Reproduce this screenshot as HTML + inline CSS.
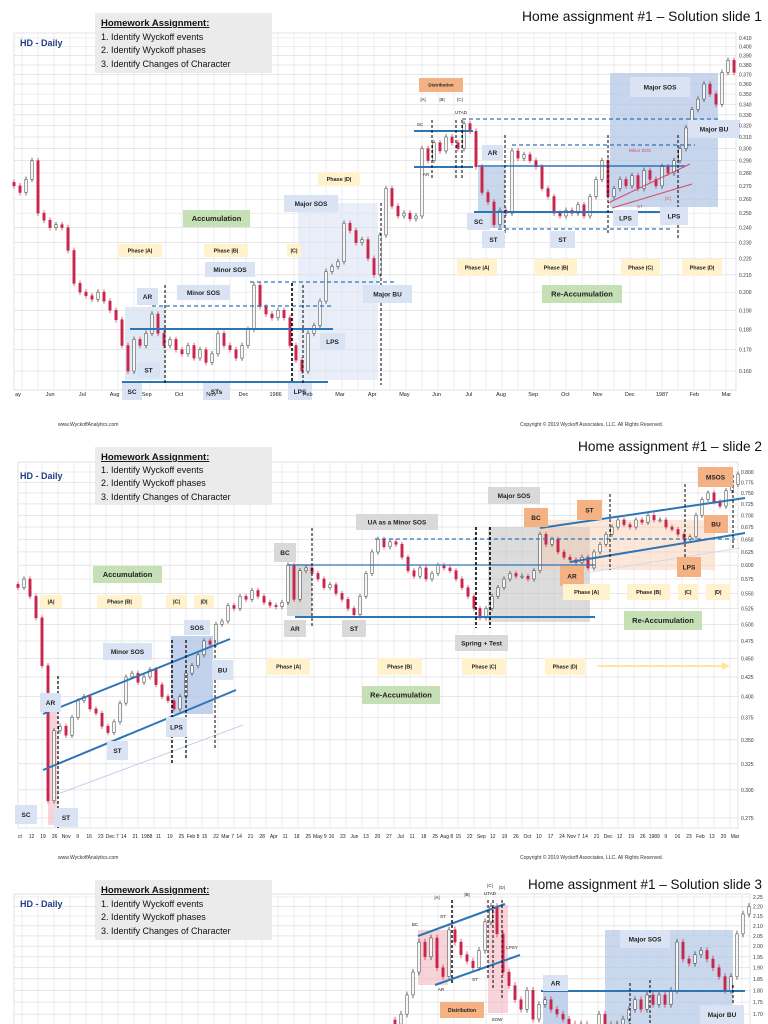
<!DOCTYPE html>
<html><head><meta charset="utf-8"><style>
html,body{margin:0;padding:0;background:#fff;}
svg{display:block;font-family:"Liberation Sans",sans-serif;}
</style></head><body>
<svg id="page" width="768" height="1024" viewBox="0 0 768 1024" xmlns="http://www.w3.org/2000/svg">
<g id="grids"></g>
<g id="zones"></g>
<g id="candles"></g>
<g id="lines"></g>
<g id="labels"></g>
<g id="axes"></g>
<g>
  <text x="762" y="21" text-anchor="end" font-size="14" font-weight="normal" textLength="240" lengthAdjust="spacingAndGlyphs" fill="#111">Home assignment #1 – Solution slide 1</text>
  <text x="762" y="451" text-anchor="end" font-size="14" font-weight="normal" textLength="184" lengthAdjust="spacingAndGlyphs" fill="#111">Home assignment #1 – slide 2</text>
  <text x="762" y="889" text-anchor="end" font-size="14" font-weight="normal" textLength="234" lengthAdjust="spacingAndGlyphs" fill="#111">Home assignment #1 – Solution slide 3</text>
  <g>
    <rect x="95" y="13" width="177" height="60" fill="#ebebeb"/>
    <text x="101" y="26" font-size="9.5" font-weight="bold" text-decoration="underline" fill="#111">Homework Assignment:</text>
    <text x="101" y="40" font-size="9" fill="#111">1.  Identify Wyckoff events</text>
    <text x="101" y="53" font-size="9" fill="#111">2.  Identify Wyckoff phases</text>
    <text x="101" y="67" font-size="9" fill="#111">3.  Identify Changes of Character</text>
  </g>
  <g>
    <rect x="95" y="447" width="177" height="58" fill="#ebebeb"/>
    <text x="101" y="460" font-size="9.5" font-weight="bold" text-decoration="underline" fill="#111">Homework Assignment:</text>
    <text x="101" y="473" font-size="9" fill="#111">1.  Identify Wyckoff events</text>
    <text x="101" y="486" font-size="9" fill="#111">2.  Identify Wyckoff phases</text>
    <text x="101" y="500" font-size="9" fill="#111">3.  Identify Changes of Character</text>
  </g>
  <g>
    <rect x="95" y="880" width="177" height="60" fill="#ebebeb"/>
    <text x="101" y="893" font-size="9.5" font-weight="bold" text-decoration="underline" fill="#111">Homework Assignment:</text>
    <text x="101" y="907" font-size="9" fill="#111">1.  Identify Wyckoff events</text>
    <text x="101" y="920" font-size="9" fill="#111">2.  Identify Wyckoff phases</text>
    <text x="101" y="934" font-size="9" fill="#111">3.  Identify Changes of Character</text>
  </g>
  <text x="20" y="46" font-size="9" font-weight="bold" fill="#1f3c88">HD - Daily</text>
  <text x="20" y="479" font-size="9" font-weight="bold" fill="#1f3c88">HD - Daily</text>
  <text x="20" y="907" font-size="9" font-weight="bold" fill="#1f3c88">HD - Daily</text>
  <text x="58" y="426" font-size="5" fill="#333">www.WyckoffAnalytics.com</text>
  <text x="520" y="426" font-size="5" fill="#333">Copyright © 2019 Wyckoff Associates, LLC. All Rights Reserved.</text>
  <text x="58" y="859" font-size="5" fill="#333">www.WyckoffAnalytics.com</text>
  <text x="520" y="859" font-size="5" fill="#333">Copyright © 2019 Wyckoff Associates, LLC. All Rights Reserved.</text>
</g>
</svg>
<script>
// ---------- data ----------
var closes1 = [.270,.265,.275,.290,.250,.245,.240,.242,.240,.225,.205,.200,.198,.196,.200,.195,.190,.185,.172,.160,
.175,.172,.178,.188,.178,.172,.175,.170,.168,.172,.166,.170,.164,.168,.178,.172,.170,.166,.172,.180,
.204,.192,.188,.186,.190,.186,.172,.165,.160,.178,.182,.195,.212,.215,.218,.243,.238,.230,.232,.220,
.210,.235,.268,.255,.248,.250,.246,.248,.300,.290,.305,.298,.310,.305,.300,.322,.315,.285,.265,.258,
.242,.252,.250,.298,.292,.295,.290,.285,.268,.262,.250,.248,.252,.250,.256,.248,.262,.275,.290,.262,
.268,.275,.270,.278,.268,.282,.275,.270,.285,.280,.290,.300,.318,.335,.345,.360,.350,.340,.372,.385,.372];
var closes2 = [.560,.575,.545,.510,.440,.290,.360,.365,.355,.375,.395,.400,.385,.380,.365,.358,.370,.392,.425,.430,
.418,.425,.435,.415,.400,.395,.385,.400,.430,.440,.455,.475,.470,.500,.505,.530,.525,.545,.540,.555,
.545,.535,.530,.528,.535,.600,.540,.590,.595,.585,.575,.560,.565,.550,.540,.525,.515,.545,.585,.625,
.650,.635,.645,.640,.615,.590,.580,.595,.575,.585,.600,.595,.590,.575,.560,.545,.525,.510,.525,.545,
.560,.575,.585,.580,.580,.575,.590,.660,.640,.650,.625,.615,.610,.605,.615,.595,.625,.640,.660,.675,
.690,.680,.675,.690,.685,.700,.690,.690,.675,.670,.660,.650,.655,.700,.735,.750,.730,.720,.755,.770,.795];
var closes3 = [1.66,1.70,1.78,1.88,2.02,1.95,2.04,1.90,1.86,2.08,2.02,1.96,1.93,1.90,1.98,2.12,2.20,2.06,1.88,1.82,
1.76,1.72,1.80,1.68,1.74,1.76,1.72,1.70,1.68,1.66,1.64,1.66,1.62,1.64,1.70,1.66,1.64,1.66,1.68,1.72,
1.76,1.72,1.78,1.74,1.78,1.74,1.80,2.02,1.94,1.92,1.96,1.98,1.94,1.90,1.86,1.80,1.86,2.06,2.16,2.20];
var ticks1 = [0.41,0.40,0.39,0.38,0.37,0.36,0.35,0.34,0.33,0.32,0.31,0.30,0.29,0.28,0.27,0.26,0.25,0.24,0.23,0.22,0.21,0.20,0.19,0.18,0.17,0.16];
var ticks2 = [0.800,0.775,0.750,0.725,0.700,0.675,0.650,0.625,0.600,0.575,0.550,0.525,0.500,0.475,0.450,0.425,0.400,0.375,0.350,0.325,0.300,0.275];
var ticks3 = [2.25,2.20,2.15,2.10,2.05,2.00,1.95,1.90,1.85,1.80,1.75,1.70];
var months1 = ["ay","Jun","Jul","Aug","Sep","Oct","Nov","Dec","1986","Feb","Mar","Apr","May","Jun","Jul","Aug","Sep","Oct","Nov","Dec","1987","Feb","Mar"];
var dates2 = ["ct","12","19","26","Nov","9","16","23","Dec 7","14","21","1988","11","19","25","Feb 8","15","22","Mar 7","14","21","28","Apr","11","18","25","May 9","16","23","Jun","13","20","27","Jul","11","18","25","Aug 8","15","22","Sep","12","19","26","Oct","10","17","24","Nov 7","14","21","Dec","12","19","26","1989","9","16","23","Feb","13","20","Mar"];

// ---------- scales ----------
function y1(p){return 38+354*Math.log(0.41/p);}
function y2(p){return 472+324*Math.log(0.8/p);}
function y3(p){return 897+418*Math.log(2.25/p);}
function x1(i){return 14+i*720/(closes1.length-1);}
function x2(i){return 18+i*720/(closes2.length-1);}
function x3(i){return 395+i*6;}

var NS="http://www.w3.org/2000/svg";
function mk(tag,parent,attrs){var e=document.createElementNS(NS,tag);for(var k in attrs)e.setAttribute(k,attrs[k]);parent.appendChild(e);return e;}
var grids=document.getElementById('grids'),zones=document.getElementById('zones'),cg=document.getElementById('candles'),lg=document.getElementById('lines'),lb=document.getElementById('labels'),ax=document.getElementById('axes');

// ---------- grids & axes ----------
function panel(x0,x1p,ytop,ybot,ticks,ys,fmt,name){
  mk('rect',grids,{x:x0,y:ytop,width:x1p-x0,height:ybot-ytop,fill:'#fff',stroke:'#d0d0d0','stroke-width':0.6});
  for(var gx=x0+8;gx<x1p;gx+=16){var v=mk('line',grids,{x1:gx,x2:gx,y1:ytop,y2:ybot,stroke:'#e2e2e2','stroke-width':0.6});
    
    }
  ticks.forEach(function(t){var yy=ys(t);if(yy<ytop||yy>ybot)return;
    var h=mk('line',grids,{x1:x0,x2:x1p,y1:yy,y2:yy,stroke:'#dadada','stroke-width':0.6});
    
    
    var tx=mk('text',ax,{x:x1p+3,y:yy+2,'font-size':5,fill:'#333'});tx.textContent=fmt(t);
    
    });
}
panel(14,736,33,390,ticks1,y1,function(t){return t.toFixed(3);},'slide1');
panel(18,738,462,828,ticks2,y2,function(t){return t.toFixed(3);},'slide2');
panel(14,750,894,1030,ticks3,y3,function(t){return t.toFixed(2);},'slide3');

months1.forEach(function(m,i){var t=mk('text',ax,{x:18+i*32.2,y:396,'font-size':5.5,'text-anchor':'middle',fill:'#222'});t.textContent=m;
  
  });
dates2.forEach(function(m,i){var t=mk('text',ax,{x:20+i*715/(dates2.length-1),y:838,'font-size':5,'text-anchor':'middle',fill:'#222'});t.textContent=m;
  
  });

// ---------- zones (drawn under candles) ----------
var zoneList=[
 [125,307,40,73,'#dae3f3',0.8],[298,203,80,177,'#dae3f3',0.6],[478,167,27,61,'#b4c7e7',0.7],[610,73,108,134,'#b4c7e7',0.75],
 [171,636,42,78,'#b4c7e7',0.8],[48,710,9,115,'#f4b6c2',0.6],[287,564,25,52,'#bfbfbf',0.6],[488,527,102,95,'#bfbfbf',0.55],[540,520,175,50,'#f8cbad',0.45],
 [418,930,30,55,'#f4b6c2',0.6],[488,905,20,108,'#f4b6c2',0.6],[543,990,25,40,'#b4c7e7',0.8],[605,930,128,100,'#b4c7e7',0.7]];
zoneList.forEach(function(z){var r=mk('rect',zones,{x:z[0],y:z[1],width:z[2],height:z[3],fill:z[4],'fill-opacity':z[5]});
  
  });

// ---------- candles ----------
function drawCandles(arr,xs,ys,name){
  arr.forEach(function(c,i){
    var o=i?arr[i-1]:c*1.01;var hi=Math.max(o,c)*1.008,lo=Math.min(o,c)*0.992;
    var x=xs(i),up=c>=o,col=up?'#333':'#c8264b';
    var w=mk('line',cg,{x1:x,x2:x,y1:ys(hi),y2:ys(lo),stroke:col,'stroke-width':0.7});
    
    
    var yt=ys(Math.max(o,c)),yb=ys(Math.min(o,c));
    var b=mk('rect',cg,{x:x-1.2,y:yt,width:2.4,height:Math.max(1,yb-yt),fill:up?'#fff':'#c8264b',stroke:col,'stroke-width':0.5});
    
    
  });
}
drawCandles(closes1,x1,y1,'slide1');
drawCandles(closes2,x2,y2,'slide2');
drawCandles(closes3,x3,y3,'slide3');

// ---------- lines ----------
var B='#2e75b6';
var lineList=[
 [130,329,333,329,B,2,''],[122,382,328,382,B,2,''],[152,306,333,306,B,1.3,'4,3'],[250,282,395,282,B,1.3,'4,3'],
 [414,131,473,131,B,2,''],[414,167,473,167,B,2,''],[478,166,685,166,B,1.5,''],[474,212,665,212,B,2,''],
 [462,119,720,119,B,1.3,'4,3'],[512,145,695,145,B,1.3,'4,3'],[498,229,670,229,B,1.3,'4,3'],
 [608,203,690,164,'#d9475f',1,''],[612,208,692,184,'#d9475f',1,''],
 [165,285,165,385,'#000',1,'3,2'],[292,283,292,385,'#000',1.6,'3,2'],[303,285,303,385,'#000',1,'3,2'],[381,203,381,385,'#000',1,'3,2'],
 [432,120,432,178,'#000',1,'3,2'],[456,120,456,178,'#000',1,'3,2'],[462,120,462,178,'#000',1,'3,2'],
 [505,135,505,235,'#000',1,'3,2'],[608,135,608,235,'#000',1,'3,2'],[678,135,678,238,'#000',1,'3,2'],
 [43,714,230,639,B,2,''],[43,770,236,690,B,2,''],[55,795,243,725,'#b4c7e7',0.8,''],
 [287,565,595,565,B,1.3,''],[295,617,595,617,B,2,''],[375,539,735,539,B,1.2,'4,3'],
 [540,528,745,498,B,2,''],[570,562,745,533,B,2,''],[585,573,740,548,'#c9d5ea',0.8,''],
 [597,666,725,666,'#ffe699',2,''],
 [58,676,58,828,'#000',1.2,'3,2'],[172,640,172,765,'#000',1.4,'3,2'],[186,640,186,758,'#000',1.2,'3,2'],[215,640,215,748,'#000',1,'3,2'],
 [312,528,312,628,'#000',1,'3,2'],[476,527,476,628,'#000',1.6,'3,2'],[490,527,490,628,'#000',1.6,'3,2'],
 [610,494,610,570,'#000',1,'3,2'],[685,484,685,560,'#000',1,'3,2'],[733,475,733,550,'#000',1,'3,2'],
 [418,936,505,904,B,2,''],[435,985,520,955,B,2,''],[541,991,745,991,B,2,''],
 [452,900,452,985,'#000',1.4,'3,2'],[488,900,488,980,'#000',1,'3,2'],[493,900,493,990,'#000',1,'3,2'],[502,900,502,1000,'#000',1,'3,2'],
 [630,983,630,1024,'#000',1,'3,2'],[650,980,650,1024,'#000',1,'3,2'],[733,985,733,1024,'#000',1,'3,2']];
lineList.forEach(function(l){var e=mk('line',lg,{x1:l[0],y1:l[1],x2:l[2],y2:l[3],stroke:l[4],'stroke-width':l[5]});if(l[6])e.setAttribute('stroke-dasharray',l[6]);
  
  });
var arrow=mk('path',lg,{d:'M722,662 L730,666 L722,670 Z',fill:'#ffe699'});



// ---------- labels ----------
var Y='#fff2cc',G='#c5e0b4',L='#dae3f3',O='#f4b183',R='#d9d9d9';
var labelList=[
 [183,210,67,17,G,'Accumulation',7.5],[118,244,44,13,Y,'Phase |A|',5.5],[204,244,44,13,Y,'Phase |B|',5.5],[287,244,14,13,Y,'|C|',5.5],[318,172,42,14,Y,'Phase |D|',5.5],
 [205,262,50,15,L,'Minor SOS',6.5],[177,285,53,15,L,'Minor SOS',6.5],[137,288,21,17,L,'AR',6.5],[137,362,23,16,L,'ST',6.5],[122,383,20,17,L,'SC',6.5],
 [203,383,27,17,L,'STs',6.5],[288,383,24,17,L,'LPS',6.5],[320,333,25,17,L,'LPS',6.5],[284,195,54,17,L,'Major SOS',6.5],[363,285,49,18,L,'Major BU',6.5],
 [419,78,44,14,O,'Distribution',4.5],[482,145,21,15,L,'AR',6.5],[467,213,23,17,L,'SC',6.5],[482,231,23,17,L,'ST',6.5],[550,231,25,17,L,'ST',6.5],
 [613,210,25,16,L,'LPS',6.5],[660,207,28,18,L,'LPS',6.5],[630,77,60,20,L,'Major SOS',6.5],[688,120,52,18,L,'Major BU',6.5],
 [457,259,40,17,Y,'Phase |A|',5.5],[535,259,42,17,Y,'Phase |B|',5.5],[621,259,39,17,Y,'Phase |C|',5.5],[682,259,40,17,Y,'Phase |D|',5.5],[542,285,80,18,G,'Re-Accumulation',7.5],
 [93,566,69,17,G,'Accumulation',7.5],[40,595,22,13,Y,'|A|',5.5],[97,595,45,13,Y,'Phase |B|',5.5],[166,595,21,13,Y,'|C|',5.5],[194,595,20,13,Y,'|D|',5.5],
 [103,643,49,17,L,'Minor SOS',6.5],[184,620,26,15,L,'SOS',6.5],[212,660,21,20,L,'BU',6.5],[40,693,21,19,L,'AR',6.5],[166,717,21,20,L,'LPS',6.5],
 [107,741,21,19,L,'ST',6.5],[15,805,22,19,L,'SC',6.5],[54,808,24,19,L,'ST',6.5],
 [274,543,22,19,R,'BC',6.5],[284,620,22,17,R,'AR',6.5],[342,620,24,17,R,'ST',6.5],[356,514,82,16,R,'UA as a Minor SOS',6.5],[488,487,52,17,R,'Major SOS',6.5],[455,635,53,16,R,'Spring + Test',6.5],
 [267,658,43,17,Y,'Phase |A|',5.5],[377,658,45,17,Y,'Phase |B|',5.5],[462,658,44,17,Y,'Phase |C|',5.5],[545,658,40,17,Y,'Phase |D|',5.5],[362,686,78,18,G,'Re-Accumulation',7.5],
 [524,508,24,19,O,'BC',6.5],[577,500,25,20,O,'ST',6.5],[698,467,35,20,O,'MSOS',6.5],[704,515,24,18,O,'BU',6.5],[560,566,24,20,O,'AR',6.5],[677,557,24,20,O,'LPS',6.5],
 [563,584,47,16,Y,'Phase |A|',5.5],[627,584,43,16,Y,'Phase |B|',5.5],[678,584,20,16,Y,'|C|',5.5],[706,584,24,16,Y,'|D|',5.5],[624,611,78,19,G,'Re-Accumulation',7.5],
 [440,1002,44,16,O,'Distribution',5],[543,975,25,16,L,'AR',6.5],[620,930,50,18,L,'Major SOS',6.5],[700,1005,44,19,L,'Major BU',6.5]];
labelList.forEach(function(a){
  var g=mk('g',lb,{});
  
  
  mk('rect',g,{x:a[0],y:a[1],width:a[2],height:a[3],fill:a[4]});
  var t=mk('text',g,{x:a[0]+a[2]/2,y:a[1]+a[3]/2+a[6]*0.36,'font-size':a[6],'font-weight':'bold','text-anchor':'middle',fill:'#222'});
  t.textContent=a[5];
});
var tinyList=[[423,101,'|A|','#222'],[442,101,'|B|','#222'],[460,101,'|C|','#222'],[461,114,'UTAD','#222'],[420,126,'SC','#222'],[426,176,'AR','#222'],
 [640,152,'Minor SOS','#d9475f'],[640,208,'ST','#d9475f'],[668,200,'|C|','#d9475f'],
 [437,899,'|A|','#222'],[467,896,'|B|','#222'],[490,887,'|C|','#222'],[502,889,'|D|','#222'],[490,895,'UTAD','#222'],[443,918,'ST','#222'],[415,926,'BC','#222'],
 [441,991,'AR','#222'],[475,981,'ST','#222'],[512,949,'LPSY','#222'],[497,1021,'SOW','#222']];
tinyList.forEach(function(a){var t=mk('text',lb,{x:a[0],y:a[1],'font-size':4.5,'text-anchor':'middle',fill:a[3]});t.textContent=a[2];
  
  });
</script>
</body></html>
